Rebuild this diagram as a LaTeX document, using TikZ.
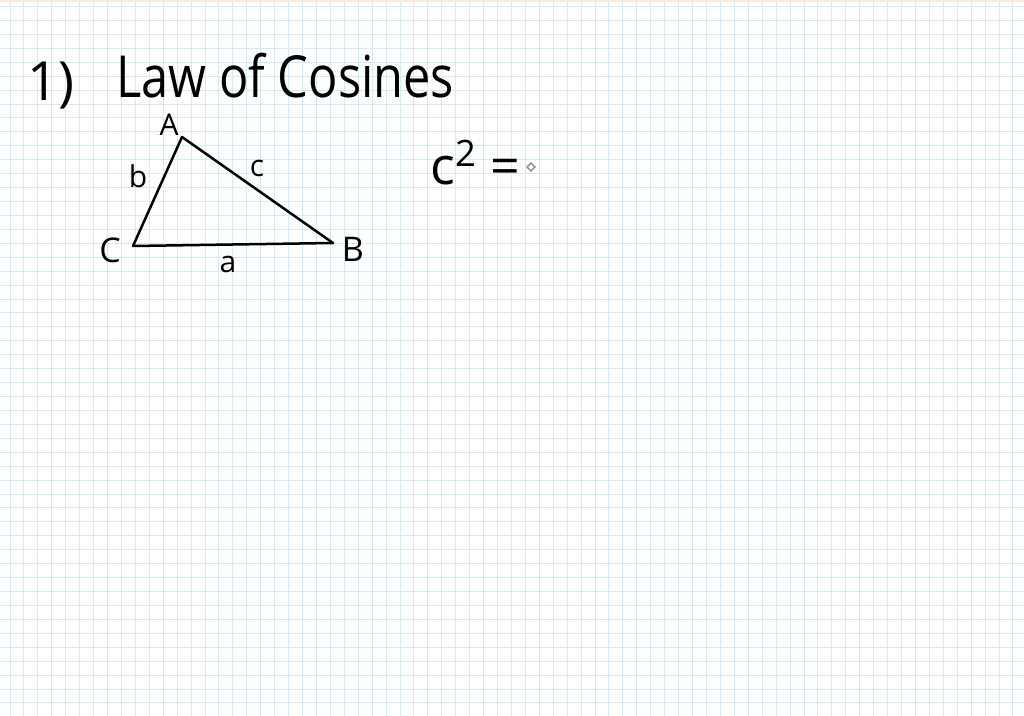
\documentclass[tikz,border=0pt]{standalone}
\usepackage{fontspec}
\setmainfont{Open Sans}
\usepackage{tikz}
\usetikzlibrary{positioning}
\definecolor{gridblue}{RGB}{214,234,246}
\definecolor{topbar}{RGB}{250,236,218}
\definecolor{cursorgrey}{RGB}{150,150,150}
\tikzset{
    gridline/.style={draw=gridblue, line width=0.5pt},
    side/.style={draw, line width=1.25pt, line cap=round, line join=round},
    vertlabel/.style={font=\fontsize{17}{20}\selectfont, inner sep=0pt},
    sidelabel/.style={font=\fontsize{15}{18}\selectfont, inner sep=0pt}
}

\begin{document}
\begin{tikzpicture}[x=0.5pt, y=-0.5pt]
  \useasboundingbox (0,0) rectangle (1024,716);
  \fill[white] (0,0) rectangle (1024,716);

  % Grid paper
  \foreach \i in {0,...,72}
    \draw[gridline] ({10+13.93*\i},0) -- ({10+13.93*\i},716);
  \foreach \j in {0,...,51}
    \draw[gridline] (0,{6.5+13.93*\j}) -- (1024,{6.5+13.93*\j});
  \fill[topbar] (0,0) rectangle (1024,2);

  % Title
  \node[anchor=base west, inner sep=0pt, font=\fontsize{27}{30}\selectfont] (num) at (27,101) {1)};
  \node[anchor=base west, inner sep=0pt, xscale=0.84, transform shape,
        font=\fontsize{29}{32}\selectfont] (title) at (116,98) {Law of Cosines};

  % Triangle vertices
  \coordinate (vA) at (182,137);
  \coordinate (vB) at (333,243);
  \coordinate (vC) at (133,246);

  % Sides
  \draw[side] (vA) -- (vB);
  \draw[side] (vB) -- (vC);
  \draw[side] (vC) -- (vA);

  % Vertex labels
  \node[vertlabel, font=\fontsize{15}{18}\selectfont] (lA) at (169,125) {A};
  \node[vertlabel] (lB) at (353,249) {B};
  \node[vertlabel] (lC) at (110,250) {C};

  % Side labels
  \node[sidelabel] (la) at (228,264) {a};
  \node[sidelabel] (lb) at (138,176) {b};
  \node[sidelabel] (lc) at (257,168) {c};

  % Formula start
  \node[anchor=base west, inner sep=0pt, font=\fontsize{26}{30}\selectfont] (csq) at (430,185) {c\textsuperscript{2} =};

  % Cursor mark
  \coordinate (cur) at (531,167);
  \draw[cursorgrey, line width=0.8pt] (cur) +(0,-4) -- +(4,0) -- +(0,4) -- +(-4,0) -- cycle;
\end{tikzpicture}
\end{document}
